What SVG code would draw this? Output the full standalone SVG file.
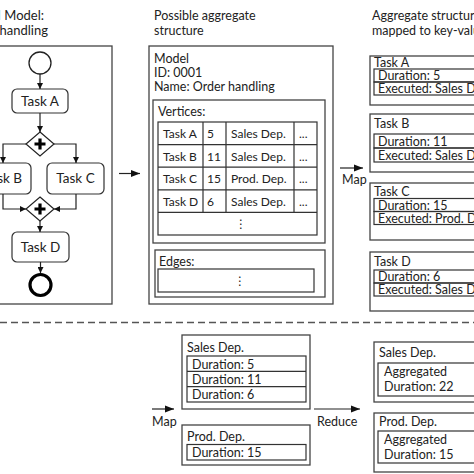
<svg xmlns="http://www.w3.org/2000/svg" width="474" height="474" viewBox="0 0 474 474">
<defs>
<marker id="ah" viewBox="0 0 10 10" refX="10" refY="5" markerWidth="6" markerHeight="6" markerUnits="userSpaceOnUse" orient="auto"><path d="M0,0 L10,5 L0,10 z" fill="#111"/></marker>
<marker id="ahb" viewBox="0 0 10 10" refX="10" refY="5" markerWidth="9" markerHeight="9" markerUnits="userSpaceOnUse" orient="auto"><path d="M0,1 L10,5 L0,9 z" fill="#111"/></marker>
</defs>
<style>
text{font-family:Lato,"Open Sans","DejaVu Sans",sans-serif;font-size:12px;fill:#222}
.t{font-size:13.5px;text-anchor:middle}
.k{font-size:12.5px}
.box{fill:#fff;stroke:#444;stroke-width:1.3}
.cell{fill:none;stroke:#333;stroke-width:1.2}
.ln{fill:none;stroke:#222;stroke-width:1.2}
.task{fill:#fff;stroke:#333;stroke-width:1.2}
.gw{fill:#fff;stroke:#222;stroke-width:1.2}
.plus{stroke:#000;stroke-width:3.2}
</style>
<rect width="474" height="474" fill="#fff"/>

<g id="titles">
<text x="44" y="20" text-anchor="end" style="font-size:13px">BPMN Model:</text>
<text x="48" y="35" text-anchor="end" style="font-size:13px">Order handling</text>
<text x="154" y="20" style="font-size:12.5px">Possible aggregate</text>
<text x="154" y="35" style="font-size:12.5px">structure</text>
<text x="372" y="20" style="font-size:12.5px">Aggregate structure</text>
<text x="372" y="35" style="font-size:12.5px">mapped to key-value</text>
</g>

<g id="bpmn-panel"><rect class="box" x="-10" y="46" width="122" height="258"/></g>
<g id="start"><circle cx="40" cy="63" r="11" fill="#fff" stroke="#222" stroke-width="1.3"/></g>
<g id="taskA"><rect class="task" x="12" y="89" width="56" height="24" rx="5"/><text class="t" x="40" y="106">Task A</text></g>
<g id="split"><path class="gw" d="M40,132 L54,144 L40,156 L26,144 z"/><path class="plus" d="M40,138.5 V149.5 M34.5,144 H45.5"/></g>
<g id="taskB"><rect class="task" x="-26" y="163" width="57" height="31" rx="5"/><text class="t" x="3" y="183">Task B</text></g>
<g id="taskC"><rect class="task" x="47" y="163" width="57" height="31" rx="5"/><text class="t" x="75.5" y="183">Task C</text></g>
<g id="join"><path class="gw" d="M40,197 L54,209 L40,221 L26,209 z"/><path class="plus" d="M40,203.5 V214.5 M34.5,209 H45.5"/></g>
<g id="taskD"><rect class="task" x="12" y="232" width="57" height="30" rx="5"/><text class="t" x="40.5" y="252">Task D</text></g>
<g id="end"><circle cx="40.5" cy="285" r="10.5" fill="#fff" stroke="#000" stroke-width="3.2"/></g>

<g id="connectors">
<path class="ln" d="M40,74 V89" marker-end="url(#ah)"/>
<path class="ln" d="M40,113 V132" marker-end="url(#ah)"/>
<path class="ln" d="M26,144 H3 V163" marker-end="url(#ah)"/>
<path class="ln" d="M54,144 H76 V163" marker-end="url(#ah)"/>
<path class="ln" d="M3,194 V209 H26" marker-end="url(#ah)"/>
<path class="ln" d="M76,194 V209 H54" marker-end="url(#ah)"/>
<path class="ln" d="M40,221 V232" marker-end="url(#ah)"/>
<path class="ln" d="M40.5,262 V273" marker-end="url(#ah)"/>
<path class="ln" d="M119,173.5 H140" marker-end="url(#ahb)"/>
<path class="ln" d="M340,168 H363" marker-end="url(#ahb)"/>
<path class="ln" d="M152,409 H174" marker-end="url(#ahb)"/>
<path class="ln" d="M314,409 H360" marker-end="url(#ahb)"/>
<path d="M0,322.5 H474" stroke="#555" stroke-width="1.5" stroke-dasharray="7,4" fill="none"/>
</g>

<g id="labels">
<text x="342" y="184" class="k">Map</text>
<text x="152" y="426" class="k">Map</text>
<text x="317" y="426" class="k">Reduce</text>
</g>

<g id="aggregate">
<rect class="box" x="149" y="46" width="184" height="258"/>
<text x="154" y="63" class="k">Model</text>
<text x="154" y="77" class="k">ID: 0001</text>
<text x="154" y="91" class="k">Name: Order handling</text>
</g>
<g id="vertices">
<rect class="box" x="153" y="100" width="172" height="143"/>
<text x="158" y="116" class="k">Vertices:</text>
<rect class="cell" x="158" y="122" width="159" height="113"/>
<path class="cell" d="M158,144.6 H317 M158,167.2 H317 M158,189.8 H317 M158,212.4 H317 M203,122 V212.4 M226,122 V212.4 M294,122 V212.4"/>
<text x="163" y="138">Task A</text><text x="207" y="138">5</text><text x="231" y="138">Sales Dep.</text><text x="299" y="138">...</text>
<text x="163" y="160.5">Task B</text><text x="207" y="160.5">11</text><text x="231" y="160.5">Sales Dep.</text><text x="299" y="160.5">...</text>
<text x="163" y="183">Task C</text><text x="207" y="183">15</text><text x="231" y="183">Prod.  Dep.</text><text x="299" y="183">...</text>
<text x="163" y="205.7">Task D</text><text x="207" y="205.7">6</text><text x="231" y="205.7">Sales Dep.</text><text x="299" y="205.7">...</text>
<text x="241" y="228" text-anchor="middle">⋮</text>
</g>
<g id="edges">
<rect class="box" x="155" y="250" width="170" height="47"/>
<text x="159" y="266" class="k">Edges:</text>
<rect class="cell" x="158" y="269" width="156" height="23"/>
<text x="240" y="285" text-anchor="middle">⋮</text>
</g>

<g id="kvA">
<rect class="box" x="370" y="56" width="120" height="49"/>
<text x="374" y="67" class="k">Task A</text>
<rect class="cell" x="374" y="69" width="120" height="13"/>
<rect class="cell" x="374" y="82" width="120" height="13"/>
<text x="378" y="80" class="k">Duration: 5</text>
<text x="378" y="93" class="k">Executed: Sales Dep.</text>
</g>
<g id="kvB">
<rect class="box" x="370" y="114" width="120" height="58"/>
<text x="374" y="128" class="k">Task B</text>
<rect class="cell" x="374" y="134" width="120" height="14"/>
<rect class="cell" x="374" y="148" width="120" height="14"/>
<text x="378" y="145.5" class="k">Duration: 11</text>
<text x="378" y="159.5" class="k">Executed: Sales Dep.</text>
</g>
<g id="kvC">
<rect class="box" x="370" y="183" width="120" height="57"/>
<text x="374" y="196" class="k">Task C</text>
<rect class="cell" x="374" y="198.5" width="120" height="13"/>
<rect class="cell" x="374" y="211.5" width="120" height="13"/>
<text x="378" y="209.5" class="k">Duration: 15</text>
<text x="378" y="222.5" class="k">Executed: Prod. Dep.</text>
</g>
<g id="kvD">
<rect class="box" x="370" y="252" width="120" height="59"/>
<text x="374" y="266" class="k">Task D</text>
<rect class="cell" x="374" y="270" width="120" height="13"/>
<rect class="cell" x="374" y="283" width="120" height="13"/>
<text x="378" y="281" class="k">Duration: 6</text>
<text x="378" y="294" class="k">Executed: Sales Dep.</text>
</g>

<g id="mapSales">
<rect class="box" x="182" y="335" width="128" height="74"/>
<text x="187" y="352" class="k">Sales Dep.</text>
<rect class="cell" x="187" y="356" width="119" height="46"/>
<path class="cell" d="M187,371.3 H306 M187,386.7 H306"/>
<text x="192" y="368.5" class="k">Duration: 5</text>
<text x="192" y="384" class="k">Duration: 11</text>
<text x="192" y="399" class="k">Duration: 6</text>
</g>
<g id="mapProd">
<rect class="box" x="182" y="425" width="128" height="40"/>
<text x="187" y="441" class="k">Prod. Dep.</text>
<rect class="cell" x="187" y="444.5" width="119" height="15.5"/>
<text x="192" y="456.5" class="k">Duration: 15</text>
</g>
<g id="redSales">
<rect class="box" x="374" y="342" width="120" height="60"/>
<text x="379" y="357" class="k">Sales Dep.</text>
<rect class="cell" x="378" y="363" width="120" height="33"/>
<text x="384" y="376" class="k">Aggregated</text>
<text x="384" y="391" class="k">Duration: 22</text>
</g>
<g id="redProd">
<rect class="box" x="374" y="413" width="120" height="59"/>
<text x="379" y="426" class="k">Prod. Dep.</text>
<rect class="cell" x="378" y="431" width="120" height="32"/>
<text x="384" y="444" class="k">Aggregated</text>
<text x="384" y="459" class="k">Duration: 15</text>
</g>
</svg>
